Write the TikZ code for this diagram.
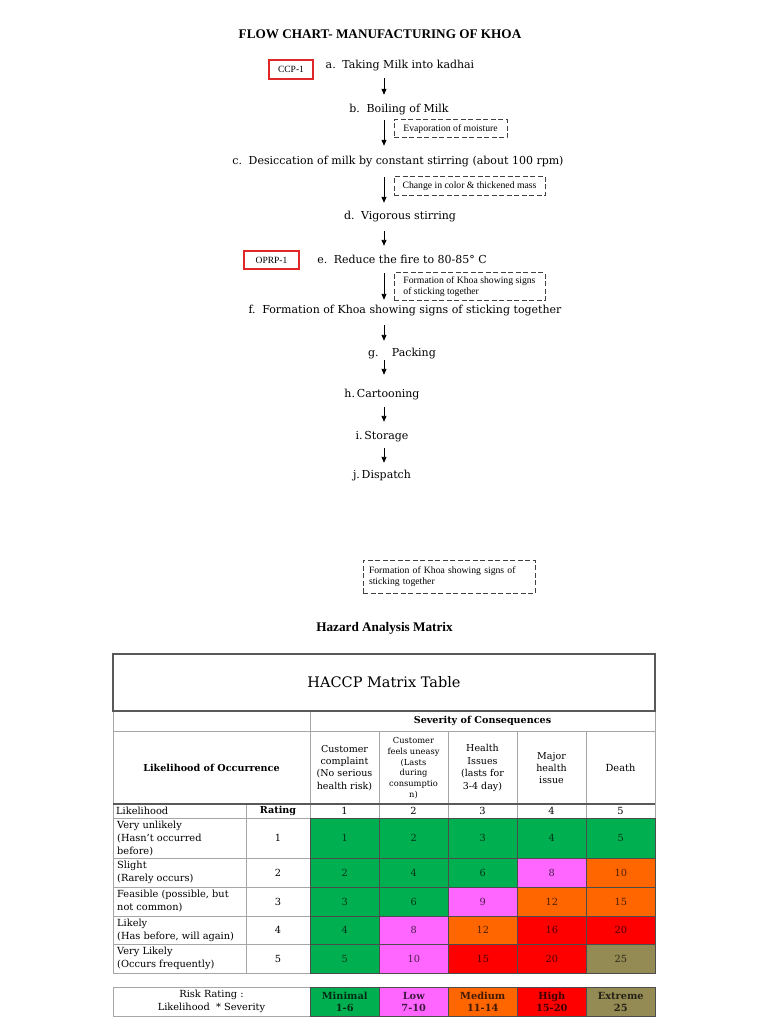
\documentclass[tikz,border=0pt]{standalone}
\usepackage{fontspec}
\setmainfont{DejaVu Serif}
\newfontfamily\timesfont{Liberation Serif}
\usetikzlibrary{arrows.meta}

\definecolor{minimal}{HTML}{00B050}
\definecolor{low}{HTML}{FF66FF}
\definecolor{medium}{HTML}{FF6600}
\definecolor{high}{HTML}{FF0000}
\definecolor{extreme}{HTML}{948A54}
\definecolor{gridgray}{HTML}{A6A6A6}
\definecolor{boxred}{HTML}{E02828}

\tikzset{
  charttitle/.style={font=\timesfont\bfseries\fontsize{13.2}{15}\selectfont},
  stepnode/.style={anchor=base, inner sep=0, text height=8pt, text depth=2.5pt, font=\fontsize{11}{13}\selectfont},
  flowarrow/.style={-{Triangle[length=6pt,width=5pt]}, line width=0.9pt},
  notebox/.style={draw=black!75, dash pattern=on 5pt off 2.5pt, line width=1pt, align=left, font=\timesfont\fontsize{9.7}{11.5}\selectfont},
  pointbox/.style={draw=boxred, line width=1.3pt, font=\timesfont\fontsize{9.5}{11}\selectfont},
  gridline/.style={draw=gridgray, line width=0.8pt},
  thickline/.style={draw=black!65, line width=1.8pt},
  tabletext/.style={inner sep=0, font=\fontsize{9.8}{13}\selectfont},
  tablebold/.style={inner sep=0, font=\bfseries\fontsize{9.6}{13}\selectfont},
  headtext/.style={inner sep=0, align=center},
  rowlabel/.style={anchor=north west, inner sep=1pt, align=left, font=\fontsize{9.8}{13}\selectfont},
  cell/.style={draw=black!70, line width=0.5pt, anchor=north west, inner sep=0, minimum width=69pt, font=\fontsize{9.8}{11}\selectfont},
}

\begin{document}
\begin{tikzpicture}[x=1pt,y=-1pt]
\useasboundingbox (0,0) rectangle (768,1024);

% flow chart
\node[charttitle] (title) at (380,34) {FLOW CHART- MANUFACTURING OF KHOA};
\coordinate (ax) at (384,0);

\foreach \n/\x/\y/\txt in {a/400/69/{a.\hspace{.6em}Taking Milk into kadhai},
                           b/399/113/{b.\hspace{.6em}Boiling of Milk},
                           c/398/165/{c.\hspace{.6em}Desiccation of milk by constant stirring (about 100 rpm)},
                           d/400/219/{d.\hspace{.6em}Vigorous stirring},
                           e/402/263/{e.\hspace{.6em}Reduce the fire to 80-85° C},
                           f/405/313/{f.\hspace{.6em}Formation of Khoa showing signs of sticking together},
                           g/402/356/{g.\hspace{1.2em}Packing},
                           h/382/397/{h.\,Cartooning},
                           i/382/439/{i.\,Storage},
                           j/382/478/{j.\,Dispatch}}
{
	\node[stepnode] (\n) at (\x,\y) {\txt};
}

\foreach \s/\t/\ga/\gb in {a/b/6.5/10, b/c/4.5/11, c/d/9.5/8, d/e/9.5/9, e/f/7.5/5,
                           f/g/9.5/7, g/h/1.5/14, h/i/7.5/9, i/j/6.5/7}
{
	\draw[flowarrow, shorten <=\ga pt, shorten >=\gb pt] (\s.south -| ax) -- (\t.north -| ax);
}

\node[pointbox, minimum width=44pt, minimum height=19pt] (ccp) at (291,69.5) {CCP-1};
\node[pointbox, minimum width=55pt, minimum height=18pt] (oprp) at (271.5,260) {OPRP-1};

\node[notebox, minimum width=113pt, minimum height=18pt] (evap) at (450.5,129) {Evaporation of moisture};
\node[notebox, minimum width=151pt, minimum height=19pt] (change) at (469.5,186.5) {Change in color \& thickened mass};
\node[notebox, minimum width=151pt, minimum height=27pt] (sticky) at (469.5,286.5) {Formation of Khoa showing signs\\of sticking together};
\node[notebox, inner xsep=6pt, text width=160pt, minimum height=33pt, font=\timesfont\fontsize{9.7}{10.5}\selectfont] (stray) at (449,576.5) {Formation of Khoa showing signs of\\sticking together};

% hazard matrix
\node[charttitle] (hazard) at (384.5,628) {Hazard Analysis Matrix};

\draw[gridline] (113,711) rectangle (655,973);
\foreach \yy in {731,818,858,887,916,944}
	\draw[gridline] (113,\yy) -- (655,\yy);
\draw[gridline] (310,711) -- (310,973);
\draw[gridline] (246,804) -- (246,973);
\foreach \xx in {379,448,517,586}
	\draw[gridline] (\xx,731) -- (\xx,818);

\node[draw=black!65, line width=1.8pt, minimum width=542pt, minimum height=57pt, font=\fontsize{14.5}{16}\selectfont] (haccp) at (384,682.5) {HACCP Matrix Table};

\node[tablebold] (severity) at (482.5,721) {Severity of Consequences};
\node[tablebold] (occurrence) at (211.5,768) {Likelihood of Occurrence};
\foreach \ci/\fs/\ls/\txt in {1/9.5/12.4/{Customer\\complaint\\(No serious\\health risk)},
                             2/8.3/10.8/{Customer\\feels uneasy\\(Lasts\\during\\consumptio\\n)},
                             3/9.5/12.4/{Health\\Issues\\(lasts for\\3-4 day)},
                             4/9.5/12.4/{Major\\health\\issue},
                             5/9.8/12.4/{Death}}
{
	\node[headtext, font=\fontsize{\fs}{\ls}\selectfont] (head-\ci) at ({344.5+69*(\ci-1)},768) {\txt};
	\node[tabletext] (sevnum-\ci) at ({344.5+69*(\ci-1)},811) {\ci};
}
\node[tabletext, anchor=west] (likelihood) at (116,811) {Likelihood};
\node[tablebold] (rating) at (278,811) {Rating};

\foreach \r/\ytop/\h/\ca/\cb/\cc/\cd/\ce/\txt in {
	1/818/40/minimal/minimal/minimal/minimal/minimal/{Very unlikely\\(Hasn't occurred\\before)},
	2/858/29/minimal/minimal/minimal/low/medium/{Slight\\(Rarely occurs)},
	3/887/29/minimal/minimal/low/medium/medium/{Feasible (possible, but\\not common)},
	4/916/28/minimal/low/medium/high/high/{Likely\\(Has before, will again)},
	5/944/29/minimal/low/high/high/extreme/{Very Likely\\(Occurs frequently)}}
{
	\foreach \ci/\col in {1/\ca,2/\cb,3/\cc,4/\cd,5/\ce}
	{
		\pgfmathtruncatemacro{\val}{\r*\ci}
		\node[cell, fill=\col, text=\col!30!black, minimum height=\h pt] (m-\r-\ci) at ({310+69*(\ci-1)},\ytop) {\val};
	}
	\node[rowlabel] (like-\r) at (116,\ytop+1.5) {\txt};
	\node[tabletext] (rate-\r) at (278,\ytop+\h/2) {\r};
}
\draw[thickline] (113,804) -- (655,804);

% risk key
\draw[gridline] (113,987) rectangle (655,1016);
\node[tabletext, align=center] (riskrating) at (211.5,1001.5) {Risk Rating :\\Likelihood \ * Severity};
\foreach \col/\txt [count=\ci] in {minimal/{Minimal\\1-6}, low/{Low\\7-10}, medium/{Medium\\11-14},
                                  high/{High\\15-20}, extreme/{Extreme\\25}}
{
	\node[cell, fill=\col, text=\col!25!black, minimum height=29pt, align=center, font=\bfseries\fontsize{9.8}{12}\selectfont] (key-\ci) at ({310+69*(\ci-1)},987) {\txt};
}
\end{tikzpicture}
\end{document}
